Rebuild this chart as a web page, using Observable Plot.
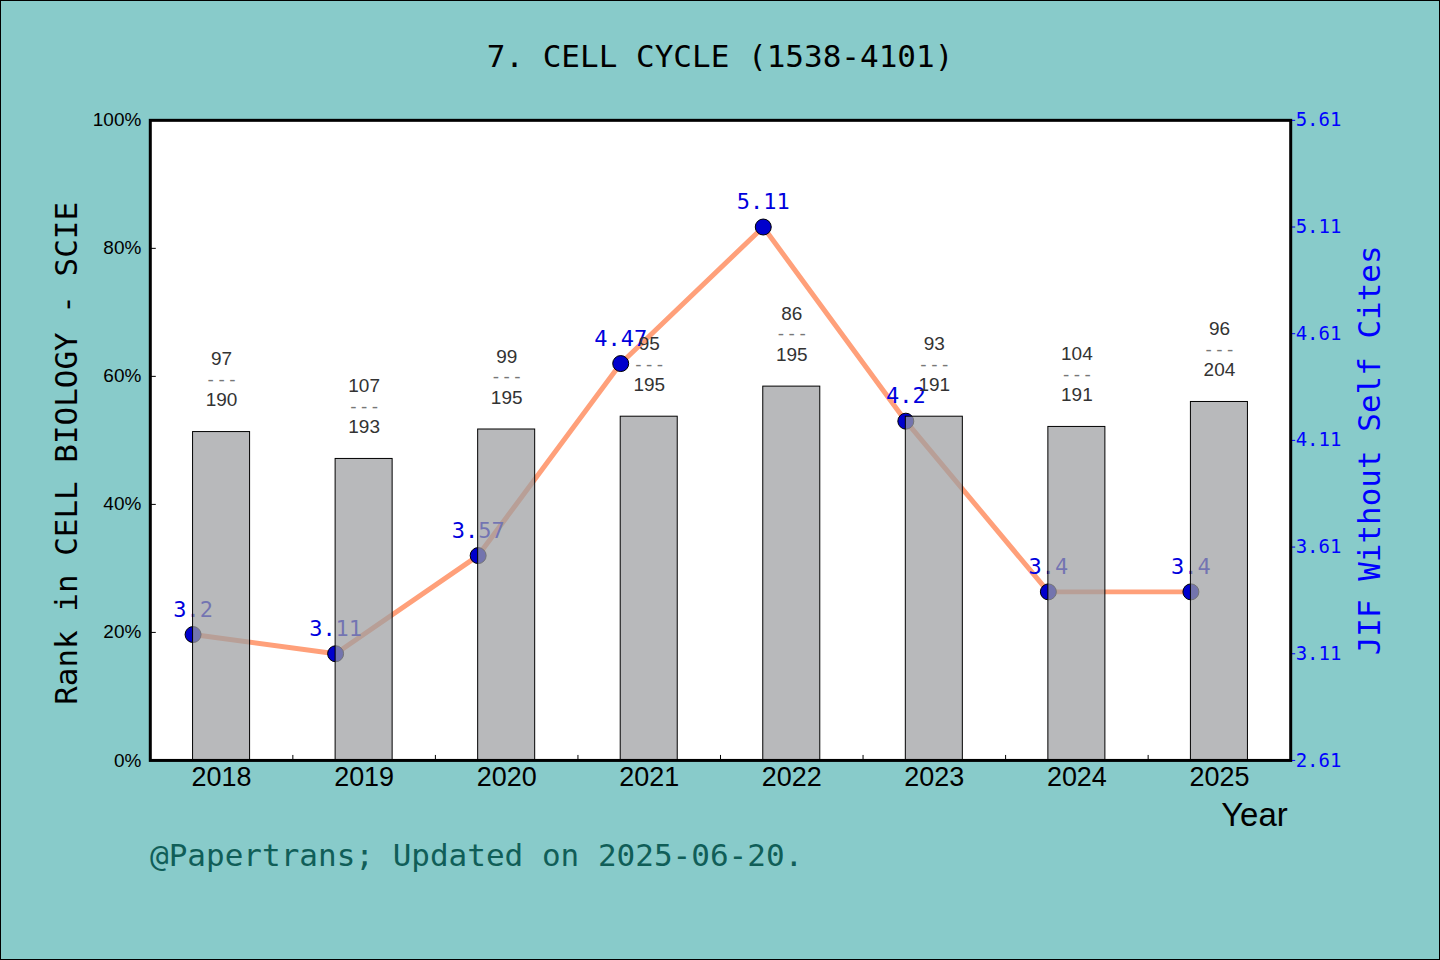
<!DOCTYPE html>
<html>
<head>
<meta charset="utf-8">
<script src="https://cdn.jsdelivr.net/npm/d3@7"></script>
<script src="https://cdn.jsdelivr.net/npm/@observablehq/plot@0.6"></script>
<style>
html, body { margin: 0; padding: 0; background: #88CBCA; }
#chart { position: relative; width: 1440px; height: 960px; background: #88CBCA; box-sizing: border-box; border: 1px solid #000; overflow: hidden; }
#chart svg { position: absolute; left: -1px; top: -1px; }
.title { position: absolute; left: -1px; width: 1440px; top: 35px; line-height: 40px; text-align: center; font-family: "DejaVu Sans Mono", monospace; font-size: 31px; color: #000; }
.caption { position: absolute; left: 149px; top: 834px; line-height: 40px; font-family: "DejaVu Sans Mono", monospace; font-size: 31px; color: #105E58; white-space: pre; }
</style>
</head>
<body>
<div id="chart">
  <div class="title">7. CELL CYCLE (1538-4101)</div>
  <div class="caption">@Papertrans; Updated on 2025-06-20.</div>
</div>
<script>
// ---- data ----
const years = ["2018", "2019", "2020", "2021", "2022", "2023", "2024", "2025"];
const rankPct = [51.3, 47.1, 51.7, 53.7, 58.4, 53.7, 52.1, 56.0];
const ranks = [97, 107, 99, 95, 86, 93, 104, 96];
const totals = [190, 193, 195, 195, 195, 191, 191, 204];
const jif = [3.2, 3.11, 3.57, 4.47, 5.11, 4.2, 3.4, 3.4];
const leftTicks = [0, 20, 40, 60, 80, 100];
const rightTicks = [2.61, 3.11, 3.61, 4.11, 4.61, 5.11, 5.61];

const data = years.map((year, i) => ({
  year, pct: rankPct[i], rank: ranks[i], total: totals[i], jif: jif[i]
}));

// ---- layout ----
const W = 1440, H = 960;
const mL = 150, mR = 148, mT = 120, mB = 199;
const innerW = W - mL - mR, innerH = H - mT - mB;
const step = innerW / years.length;
const xScale = { type: "band", domain: years, paddingInner: 0.6, paddingOuter: 0.3, align: 0.5, round: false };
const pointShift = -0.2 * step; // points sit at left edge of each bar
const mono = "DejaVu Sans Mono";
const sans = "Liberation Sans";

// ---- bottom layer: white plot area, JIF line, dots, labels, right axis ----
const under = Plot.plot({
  width: W, height: H,
  marginLeft: mL, marginRight: mR, marginTop: mT, marginBottom: mB,
  style: { background: "transparent", fontFamily: mono, fontSize: "19px", overflow: "visible" },
  x: { ...xScale, axis: null },
  y: { domain: [2.61, 5.61] },
  marks: [
    Plot.frame({ fill: "white", stroke: "none" }),
    Plot.line(data, { x: "year", y: "jif", stroke: "#FFA07A", strokeWidth: 5, dx: pointShift }),
    Plot.dot(data, { x: "year", y: "jif", r: 8, fill: "#0000CD", stroke: "black", strokeWidth: 1, dx: pointShift }),
    Plot.text(data, { x: "year", y: "jif", text: d => String(d.jif), dx: pointShift, dy: -25, fill: "#0000DD", fontSize: 22, fontFamily: mono }),
    Plot.axisY({
      anchor: "right", ticks: rightTicks, tickFormat: d => d.toFixed(2),
      tickSize: 4, tickPadding: 1, fontSize: 19, fontFamily: mono,
      fill: "blue", stroke: "blue", label: null
    }),
    Plot.text(["JIF Without Self Cites"], {
      frameAnchor: "right", rotate: -90, dx: 80, dy: 10, textAnchor: "middle", lineAnchor: "middle",
      fontSize: 31, fontFamily: mono, fill: "blue"
    })
  ]
});

// ---- top layer: bars, rank labels, left axis, x axis, frame ----
const over = Plot.plot({
  width: W, height: H,
  marginLeft: mL, marginRight: mR, marginTop: mT, marginBottom: mB,
  style: { background: "transparent", fontFamily: sans, fontSize: "19px", overflow: "visible" },
  x: xScale,
  y: { domain: [0, 100] },
  marks: [
    Plot.barY(data, { x: "year", y: "pct", fill: "rgb(158,159,162)", fillOpacity: 0.73, stroke: "black", strokeWidth: 1 }),
    Plot.text(data, { x: "year", y: "pct", text: d => String(d.rank), dy: -73, fill: "#333", fontSize: 19, fontFamily: sans }),
    Plot.text(data, { x: "year", y: "pct", text: () => "---", dy: -53, fill: "#777", fontSize: 18, fontFamily: mono }),
    Plot.text(data, { x: "year", y: "pct", text: d => String(d.total), dy: -32, fill: "#333", fontSize: 19, fontFamily: sans }),
    Plot.tickY(leftTicks, { insetRight: innerW - 6, stroke: "black", strokeWidth: 1 }),
    Plot.axisY({
      ticks: leftTicks, tickFormat: d => d + "%", tickSize: 0, tickPadding: 9,
      fontSize: 19, fontFamily: sans, fill: "black", label: null
    }),
    Plot.tickX(years.slice(0, -1), { x: d => d, dx: step / 2, insetTop: innerH - 5, stroke: "black", strokeWidth: 1 }),
    Plot.axisX({ tickSize: 0, tickPadding: 6, fontSize: 27, fontFamily: sans, fill: "black", label: null }),
    Plot.text(["Rank in CELL BIOLOGY - SCIE"], {
      frameAnchor: "left", rotate: -90, dx: -83, dy: 13, textAnchor: "middle", lineAnchor: "middle",
      fontSize: 31, fontFamily: mono, fill: "black"
    }),
    Plot.text(["Year"], {
      frameAnchor: "bottom-right", textAnchor: "end", lineAnchor: "middle", dx: -3, dy: 55,
      fontSize: 33, fontFamily: sans, fill: "black"
    }),
    Plot.frame({ stroke: "black", strokeWidth: 3 })
  ]
});

const chart = document.getElementById("chart");
chart.appendChild(under);
chart.appendChild(over);
</script>
</body>
</html>
